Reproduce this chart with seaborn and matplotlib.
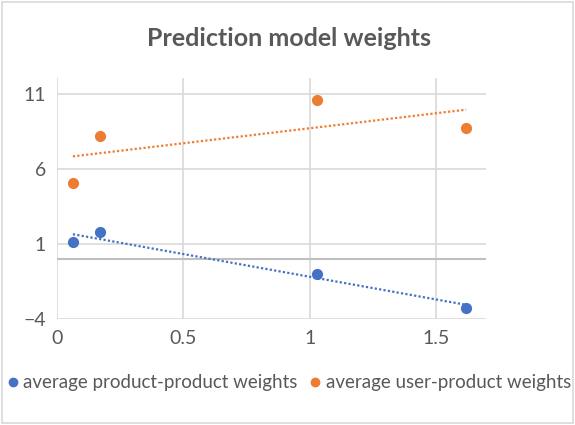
import matplotlib
matplotlib.use("Agg")
import matplotlib.pyplot as plt
import seaborn as sns
import pandas as pd

# values
x_vals = [0.063, 0.171, 1.030, 1.618]
pp_weights = [1.1, 1.8, -1.0, -3.25]
up_weights = [5.07, 8.17, 10.6, 8.7]
series_names = ["average product-product weights", "average user-product weights"]
series_colors = ["#4472C4", "#ED7D31"]
y_ticks = [-4, 1, 6, 11]
x_ticks = [0, 0.5, 1, 1.5]

df = pd.DataFrame({"x": x_vals * 2,
                   "w": pp_weights + up_weights,
                   "series": [series_names[0]] * 4 + [series_names[1]] * 4})

sns.set_style("white")
plt.rcParams["font.family"] = ["Lato", "DejaVu Sans"]

fig = plt.figure(figsize=(5.75, 4.25), dpi=100)
ax = fig.add_axes([0.099, 0.249, 0.746, 0.567])

grey = "#595959"
for name, col in zip(series_names, series_colors):
    sub = df[df["series"] == name]
    sns.regplot(data=sub, x="x", y="w", ax=ax, ci=None, color=col,
                scatter_kws={"s": 65, "zorder": 4, "linewidths": 0, "alpha": 1},
                line_kws={"linestyle": (0, (1, 1)), "linewidth": 1.6, "zorder": 3},
                label=name)

ax.set_xlim(0, 1.696)
ax.set_ylim(-4, 12.02)
ax.set_xticks(x_ticks)
ax.set_xticklabels(["0", "0.5", "1", "1.5"])
ax.set_yticks(y_ticks)
ax.grid(True, color="#D9D9D9", linewidth=1.2)
ax.axhline(0, color="#BFBFBF", linewidth=1.5, zorder=2)
for s in ax.spines.values():
    s.set_visible(False)
ax.tick_params(axis="both", length=0, labelsize=14, labelcolor=grey, pad=8)
ax.set_xlabel("")
ax.set_ylabel("")

fig.text(0.503, 0.91, "Prediction model weights", ha="center", va="center",
         fontsize=18, fontweight="bold", color=grey)

handles = [plt.Line2D([], [], marker="o", linestyle="", color=c, markersize=6)
           for c in series_colors]
fig.legend(handles, series_names, loc="center", bbox_to_anchor=(0.5, 0.099),
           ncol=2, frameon=False, fontsize=13.5, labelcolor=grey,
           handletextpad=0.1, columnspacing=0.5, handlelength=0.9)

# thin border round the chart area like the original
fig.patches.append(plt.Rectangle((0.004, 0.004), 0.992, 0.992, transform=fig.transFigure,
                                 fill=False, edgecolor="#D9D9D9", linewidth=1.2))

fig.savefig("out.png", dpi=100)
